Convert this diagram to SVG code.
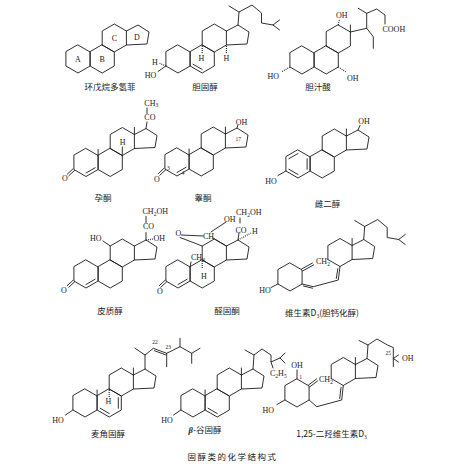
<svg xmlns="http://www.w3.org/2000/svg" width="474" height="474" viewBox="0 0 474 474">
<style>
.b{fill:none;stroke:#1a1a1a;stroke-width:0.9;stroke-linejoin:round;stroke-linecap:round}
.hs{fill:none;stroke:#1a1a1a;stroke-width:1.1;stroke-dasharray:0.9 1.1}
.t{font-family:"Liberation Serif","Times New Roman",serif;font-size:8px;fill:#1a1a1a}
.m{text-anchor:middle}
.e{text-anchor:end}
.s{font-size:5.5px}
.cap{font-family:"Noto Sans CJK SC","Noto Sans CJK TC",sans-serif;font-size:8.5px;fill:#1a1a1a;text-anchor:middle}
</style>
<defs>
<path id="ring" d="M0,-14L12.1,-7L12.1,7L0,14L-12.1,7L-12.1,-7Z"/>
<path id="cd" d="M24.2,-14L24.2,-28L36.3,-35L48.4,-28L48.4,-14L36.3,-7L24.2,-14M48.4,-28L60,-34L71,-27L69,-15L48.4,-14"/>
<g id="ster"><use href="#ring"/><use href="#ring" x="24.2"/><use href="#cd"/></g>
<path id="sc" d="M0,0L1,-13L14,-20L23.5,-12L23.5,-2L35,0L41.5,-5M35,0L41.5,5M1,-13L-9,-19"/>
<path id="keto" d="M-11.35,7.8L-17.25,13.3M-12.85,6.2L-18.75,11.7"/>
</defs>
<rect width="474" height="474" fill="#fff"/>

<g id="parent" transform="translate(78,59)">
<use href="#ster" class="b"/>
<text class="t m" x="0" y="3">A</text>
<text class="t m" x="24.2" y="3">B</text>
<text class="t m" x="36.3" y="-18">C</text>
<text class="t m" x="59" y="-19">D</text>
</g>
<text class="cap" x="110" y="90">环戊烷多氢菲</text>

<g id="cholesterol" transform="translate(178,59)">
<use href="#ster" class="b"/>
<path class="b" d="M15.1,5.25L24.2,10.5"/>
<path class="hs" d="M-12.1,7L-19,4"/>
<text class="t m" x="-23" y="6">H</text>
<path class="b" d="M-12.1,7L-20,12.5"/>
<text class="t m" x="-27.5" y="18.5">HO</text>
<path class="hs" d="M24.2,-13L24.2,-5"/>
<text class="t m" x="23.5" y="2">H</text>
<path class="hs" d="M48.4,-13L48.4,-6"/>
<text class="t m" x="48.4" y="1.5">H</text>
<use href="#sc" x="60" y="-34" class="b"/>
</g>
<text class="cap" x="205" y="90">胆固醇</text>

<g id="cholic-acid" transform="translate(302,60)">
<use href="#ring" class="b"/>
<use href="#ring" x="24.2" class="b"/>
<use href="#ring" x="36.3" y="-21" class="b"/>
<path class="hs" d="M-12.1,7L-20,11.5"/>
<text class="t m" x="-28.7" y="19.4">HO</text>
<path class="hs" d="M36.3,7L44,12"/>
<text class="t m" x="50.7" y="21">OH</text>
<path class="hs" d="M36.3,-35L37.5,-41"/>
<text class="t m" x="39.7" y="-42.3">OH</text>
<path class="b" d="M48.4,-28L48.4,-35M48.4,-28L64.7,-31.7L64.7,-46.7L74.7,-51L83,-45L83,-36M64.7,-46.7L56.3,-51.7M64.7,-31.7L71.3,-23.3L71.3,-11.7"/>
<text class="t" x="80.5" y="-28">COOH</text>
</g>
<text class="cap" x="318" y="90">胆汁酸</text>

<g id="progesterone" transform="translate(86,162.5)">
<use href="#ster" class="b"/>
<path class="b" d="M0,10.5L9.1,5.25"/>
<use href="#keto" class="b"/>
<text class="t m" x="-21" y="18.5">O</text>
<path class="b" d="M12.1,-7L12.1,-13M48.4,-28L48.4,-35M36.3,-7L36.3,-15.5"/>
<text class="t m" x="36.6" y="-17.3">H</text>
<path class="b" d="M60,-34L61,-40.5M61,-49L61,-54.5"/>
<text class="t" x="58.3" y="-42.5">CO</text>
<text class="t" x="58.3" y="-56.8">CH<tspan class="s" dy="1.5">3</tspan></text>
</g>
<text class="cap" x="103" y="201">孕酮</text>

<g id="testosterone" transform="translate(177,162)">
<use href="#ster" class="b"/>
<path class="b" d="M0,10.5L9.1,5.25"/>
<use href="#keto" class="b"/>
<text class="t m" x="-20" y="19.5">O</text>
<text class="t m s" x="-8.7" y="8.3">3</text>
<text class="t m s" x="6" y="13">4</text>
<path class="b" d="M12.1,-7L12.1,-13M48.4,-28L48.4,-35M60,-34L61,-37"/>
<text class="t m" x="64.5" y="-37">OH</text>
<text class="t m s" x="61.3" y="-20.7">17</text>
</g>
<text class="cap" x="203" y="201">睾酮</text>

<g id="estradiol" transform="translate(298,164)">
<use href="#ster" class="b"/>
<path class="b" d="M0,-10.5L-9.1,-5.25M-9.1,5.25L0,10.5M9.1,5.25L9.1,-5.25"/>
<path class="b" d="M-12.1,7L-20,11.5M48.4,-28L48.4,-35M60,-34L62,-38.5"/>
<text class="t m" x="-27" y="20">HO</text>
<text class="t m" x="66" y="-40.3">OH</text>
</g>
<text class="cap" x="327.5" y="207">雌二醇</text>

<g id="cortisol" transform="translate(86,274)">
<use href="#ster" class="b"/>
<path class="b" d="M0,10.5L9.1,5.25"/>
<use href="#keto" class="b"/>
<text class="t m" x="-22" y="18.7">O</text>
<path class="b" d="M24.2,-28L17,-33M60,-34L60,-41.5M60,-51L60,-57.5"/>
<text class="t e" x="15.5" y="-33">HO</text>
<text class="t" x="57" y="-44.6">CO</text>
<path class="hs" d="M60,-34L67,-35"/>
<text class="t" x="67.5" y="-33">OH</text>
<text class="t" x="56.5" y="-60">CH<tspan class="s" dy="1.5">2</tspan><tspan dy="-1.5">OH</tspan></text>
</g>
<text class="cap" x="110" y="314">皮质醇</text>

<g id="aldosterone" transform="translate(178,274)">
<use href="#ster" class="b"/>
<path class="b" d="M0,10.5L9.1,5.25"/>
<use href="#keto" class="b"/>
<text class="t m" x="-18" y="19.5">O</text>
<path class="hs" d="M24.2,-13L24.2,-5"/>
<text class="t m" x="26" y="5">H</text>
<path class="b" d="M12.1,-7L13,-12"/>
<text class="t" x="13" y="-14">CH<tspan class="s" dy="1.5">3</tspan></text>
<text class="t m" x="0.3" y="-38">O</text>
<path class="b" d="M3.5,-39L25,-38M2,-36.5L24.2,-28M48.4,-28L35,-36"/>
<text class="t" x="25" y="-35">CH</text>
<path class="b" d="M33,-42L48,-52"/>
<text class="t" x="46" y="-52.5">OH</text>
<path class="b" d="M60,-34L61,-41"/>
<text class="t" x="57.5" y="-41.5">CO</text>
<path class="hs" d="M60,-34L73,-41"/>
<text class="t m" x="77" y="-40">H</text>
<path class="b" d="M62,-51L62,-56"/>
<text class="t" x="58" y="-59">CH<tspan class="s" dy="1.5">2</tspan><tspan dy="-1.5">OH</tspan></text>
</g>
<text class="cap" x="227" y="314">醛固酮</text>

<g id="vitamin-d3">
<g transform="translate(290,277)">
<use href="#ring" class="b"/>
<path class="b" d="M12.6,-6L23.5,-12M11.6,-8L22.5,-14"/>
<text class="t" x="26" y="-12.6">CH<tspan class="s" dy="1.5">2</tspan></text>
<path class="b" d="M-12.1,7L-19,10.5"/>
<text class="t e" x="-19.3" y="15.7">HO</text>
<path class="b" d="M12.1,7L23.3,9.7L48.3,3L50,-10.5M13.5,9L22.5,11.2M46.3,1.5L47.8,-8.3"/>
</g>
<g transform="translate(303.7,273.5)">
<use href="#cd" class="b"/>
<path class="b" d="M48.4,-28L48.4,-35"/>
<use href="#sc" x="60" y="-34" class="b"/>
</g>
</g>
<text class="cap" x="322" y="316">维生素D<tspan font-family="Liberation Serif" font-size="5.5" dy="1.5">3</tspan><tspan dy="-1.5">(胆钙化醇)</tspan></text>

<g id="ergosterol" transform="translate(85,403)">
<use href="#ster" class="b"/>
<path class="b" d="M15.1,5.25L24.2,10.5M33.3,5.25L33.3,-5.25"/>
<path class="hs" d="M24.2,-13L24.2,-5"/>
<text class="t m" x="23.3" y="1.4">H</text>
<path class="b" d="M-12.1,7L-19.5,12M12.1,-7L12.1,-13M48.4,-28L48.4,-35"/>
<text class="t m" x="-27" y="19.7">HO</text>
<path class="b" d="M60,-34L60,-48L68.3,-54.7L81.7,-49.7L95,-56.3L106.7,-49.7L115,-54.7M106.7,-49.7L106.7,-39.7M95,-56.3L95,-64.7M81.7,-49.7L81.7,-36.3M60,-48L50,-54.7M69.5,-52.3L80.5,-48.2"/>
<text class="t m s" x="70" y="-59.5">22</text>
<text class="t m s" x="83.3" y="-54.5">23</text>
</g>
<text class="cap" x="108" y="437">麦角固醇</text>

<g id="sitosterol" transform="translate(193,403)">
<use href="#ster" class="b"/>
<path class="b" d="M15.1,5.25L24.2,10.5M-12.1,7L-19.5,12M12.1,-7L12.1,-13M48.4,-28L48.4,-35"/>
<text class="t m" x="-26" y="19.7">HO</text>
<path class="b" d="M60,-34L61,-48L52,-53M61,-48L69,-54L78,-48L78,-41L87,-45L92,-50M87,-45L92,-40M78,-41L80,-35"/>
<text class="t" x="77" y="-27">C<tspan class="s" dy="1.5">2</tspan><tspan dy="-1.5">H</tspan><tspan class="s" dy="1.5">5</tspan></text>
</g>
<text class="cap" x="205" y="433"><tspan font-family="Liberation Serif" font-style="italic" font-weight="bold">β</tspan>-谷固醇</text>

<g id="calcitriol">
<g transform="translate(297,393)">
<use href="#ring" class="b"/>
<path class="b" d="M0,-14L0,-23"/>
<text class="t m" x="0" y="-25.3">OH</text>
<text class="t m s" x="3.5" y="-14.3">1</text>
<path class="b" d="M-12.1,7L-20,11.5"/>
<text class="t m" x="-28.7" y="19.7">HO</text>
<path class="b" d="M12.6,-6L20.5,-12M11.6,-8L19.5,-14"/>
<text class="t" x="22" y="-11">CH<tspan class="s" dy="1.5">2</tspan></text>
<path class="b" d="M12.1,7L19.7,13.7L44.7,7L46.3,-7.5M42.7,5.5L44,-5.5"/>
</g>
<g transform="translate(307,392.5)">
<use href="#cd" class="b"/>
<path class="b" d="M48.4,-28L48.4,-35M60,-34L61,-47.5L52,-52M61,-47.5L70,-53.5L80.5,-47.5L86.3,-45L86.3,-26M86.3,-34L91.5,-37.5M86.3,-34L91.5,-30.5"/>
<text class="t s" x="78.5" y="-38">25</text>
<text class="t" x="95" y="-31.5">OH</text>
</g>
</g>
<text class="cap" x="331.5" y="437">1,25-二羟维生素D<tspan font-family="Liberation Serif" font-size="5.5" dy="1.5">3</tspan></text>

<text class="cap" x="232.5" y="460" letter-spacing="1.5">固醇类的化学结构式</text>
</svg>
